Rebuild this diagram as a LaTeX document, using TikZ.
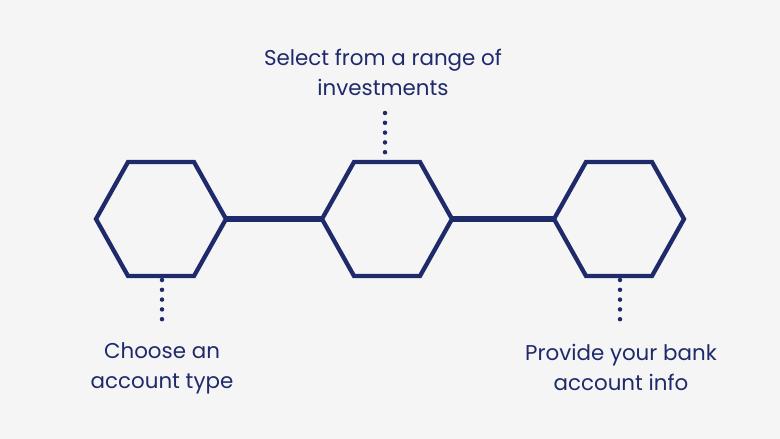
\documentclass[tikz,border=0pt]{standalone}
\usepackage{fontspec}
\setmainfont{Poppins}
\definecolor{navy}{HTML}{1F2A6B}
\definecolor{bg}{HTML}{F5F5F5}
\begin{document}
\begin{tikzpicture}[x=1pt,y=-1pt,
  hexa/.style={draw=navy,line width=4.3pt,line join=miter},
  link/.style={draw=navy,line width=5.5pt},
  dots/.style={draw=navy,line width=4.5pt,line cap=round,dash pattern=on 0pt off 9.8pt},
  lbl/.style={text=navy,font=\fontsize{21.4}{30}\selectfont,align=center}]
\fill[bg] (0,0) rectangle (780,439);
\useasboundingbox (0,0) rectangle (780,439);
\foreach \n/\c in {a/161,b/387,c/619}{
  \draw[hexa] (\c-65,219) -- (\c-33,162) -- (\c+33,162) -- (\c+65,219) -- (\c+33,276) -- (\c-33,276) -- cycle;
  \coordinate (\n L) at (\c-65,219);
  \coordinate (\n R) at (\c+65,219);
}
\draw[link] (aR) -- (bL);
\draw[link] (bR) -- (cL);
\coordinate (d1) at (162,280); \coordinate (d1e) at (162,327);
\coordinate (d2) at (385,113); \coordinate (d2e) at (385,159);
\coordinate (d3) at (620,280); \coordinate (d3e) at (620,327);
\draw[dots] (d1) -- (d1e);
\draw[dots] (d2) -- (d2e);
\draw[dots] (d3) -- (d3e);
\node[lbl] (t1) at (162,368) {Choose an\\account type};
\node[lbl] (t2) at (383,72) {Select from a range of\\investments};
\node[lbl] (t3) at (621,367) {Provide your bank\\account info};
\end{tikzpicture}
\end{document}
